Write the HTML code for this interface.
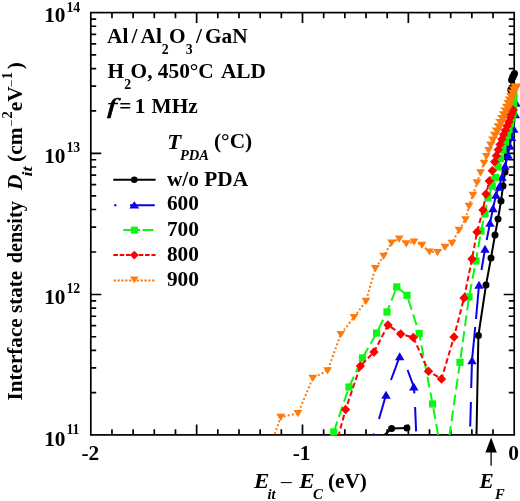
<!DOCTYPE html>
<html><head><meta charset="utf-8"><title>Dit plot</title>
<style>html,body{margin:0;padding:0;background:#fff}svg{display:block}</style></head>
<body>
<svg width="520" height="501" viewBox="0 0 520 501">
<rect width="520" height="501" fill="#fff"/>
<defs><clipPath id="cp"><rect x="90.80" y="12.60" width="423.40" height="422.30"/></clipPath></defs>
<g stroke="#000" stroke-width="1.7" fill="none" stroke-linecap="butt">
<rect x="90.8" y="12.6" width="423.40" height="422.30"/>
<path d="M111.97 434.9 v-5.7 M111.97 12.6 v5.7 M133.14 434.9 v-5.7 M133.14 12.6 v5.7 M154.31 434.9 v-5.7 M154.31 12.6 v5.7 M175.48 434.9 v-5.7 M175.48 12.6 v5.7 M196.65 434.9 v-10.5 M196.65 12.6 v10.5 M217.82 434.9 v-5.7 M217.82 12.6 v5.7 M238.99 434.9 v-5.7 M238.99 12.6 v5.7 M260.16 434.9 v-5.7 M260.16 12.6 v5.7 M281.33 434.9 v-5.7 M281.33 12.6 v5.7 M302.50 434.9 v-10.5 M302.50 12.6 v10.5 M323.67 434.9 v-5.7 M323.67 12.6 v5.7 M344.84 434.9 v-5.7 M344.84 12.6 v5.7 M366.01 434.9 v-5.7 M366.01 12.6 v5.7 M387.18 434.9 v-5.7 M387.18 12.6 v5.7 M408.35 434.9 v-10.5 M408.35 12.6 v10.5 M429.52 434.9 v-5.7 M429.52 12.6 v5.7 M450.69 434.9 v-5.7 M450.69 12.6 v5.7 M471.86 434.9 v-5.7 M471.86 12.6 v5.7 M493.03 434.9 v-5.7 M493.03 12.6 v5.7 M90.8 392.64 h5.4 M514.2 392.64 h-5.4 M90.8 367.91 h5.4 M514.2 367.91 h-5.4 M90.8 350.37 h5.4 M514.2 350.37 h-5.4 M90.8 336.76 h5.4 M514.2 336.76 h-5.4 M90.8 325.65 h5.4 M514.2 325.65 h-5.4 M90.8 316.25 h5.4 M514.2 316.25 h-5.4 M90.8 308.11 h5.4 M514.2 308.11 h-5.4 M90.8 300.92 h5.4 M514.2 300.92 h-5.4 M90.8 294.50 h10.5 M514.2 294.50 h-10.5 M90.8 251.99 h5.4 M514.2 251.99 h-5.4 M90.8 227.13 h5.4 M514.2 227.13 h-5.4 M90.8 209.49 h5.4 M514.2 209.49 h-5.4 M90.8 195.81 h5.4 M514.2 195.81 h-5.4 M90.8 184.63 h5.4 M514.2 184.63 h-5.4 M90.8 175.17 h5.4 M514.2 175.17 h-5.4 M90.8 166.98 h5.4 M514.2 166.98 h-5.4 M90.8 159.76 h5.4 M514.2 159.76 h-5.4 M90.8 153.30 h10.5 M514.2 153.30 h-10.5 M90.8 110.95 h5.4 M514.2 110.95 h-5.4 M90.8 86.17 h5.4 M514.2 86.17 h-5.4 M90.8 68.59 h5.4 M514.2 68.59 h-5.4 M90.8 54.95 h5.4 M514.2 54.95 h-5.4 M90.8 43.81 h5.4 M514.2 43.81 h-5.4 M90.8 34.39 h5.4 M514.2 34.39 h-5.4 M90.8 26.24 h5.4 M514.2 26.24 h-5.4 M90.8 19.04 h5.4 M514.2 19.04 h-5.4"/>
</g>
<g fill="none" stroke-linejoin="round">
<path d="M476.3 445.0 L478.4 335.5 L486.0 285.0 L491.0 258.0 L495.0 235.0 L498.0 219.0 L501.0 201.0 L503.0 186.0 L505.0 172.0 L506.5 157.0 L507.5 142.0 L508.5 128.0 L509.5 114.0 L510.3 100.0 L510.8 90.0 L511.5 80.0 L512.3 78.0 L513.0 76.5 L513.8 75.0 L514.5 73.5" stroke="#000" stroke-width="2" clip-path="url(#cp)"/>
<path d="M379.5 439.5 L391.6 428.6 L406.9 428.1" stroke="#000" stroke-width="2" clip-path="url(#cp)"/>
<circle cx="478.4" cy="335.5" r="3.5" fill="#000"/>
<circle cx="486.0" cy="285.0" r="3.5" fill="#000"/>
<circle cx="491.0" cy="258.0" r="3.5" fill="#000"/>
<circle cx="495.0" cy="235.0" r="3.5" fill="#000"/>
<circle cx="498.0" cy="219.0" r="3.5" fill="#000"/>
<circle cx="501.0" cy="201.0" r="3.5" fill="#000"/>
<circle cx="503.0" cy="186.0" r="3.5" fill="#000"/>
<circle cx="505.0" cy="172.0" r="3.5" fill="#000"/>
<circle cx="506.5" cy="157.0" r="3.5" fill="#000"/>
<circle cx="507.5" cy="142.0" r="3.5" fill="#000"/>
<circle cx="508.5" cy="128.0" r="3.5" fill="#000"/>
<circle cx="509.5" cy="114.0" r="3.5" fill="#000"/>
<circle cx="510.3" cy="100.0" r="3.5" fill="#000"/>
<circle cx="510.8" cy="90.0" r="3.5" fill="#000"/>
<circle cx="511.5" cy="80.0" r="3.5" fill="#000"/>
<circle cx="512.3" cy="78.0" r="3.5" fill="#000"/>
<circle cx="513.0" cy="76.5" r="3.5" fill="#000"/>
<circle cx="513.8" cy="75.0" r="3.5" fill="#000"/>
<circle cx="514.5" cy="73.5" r="3.5" fill="#000"/>
<circle cx="391.6" cy="428.6" r="3.5" fill="#000"/>
<circle cx="406.9" cy="428.1" r="3.5" fill="#000"/>
<path d="M373.4 435.5 L373.9 433.6" stroke="#0c00e4" stroke-width="2" clip-path="url(#cp)"/>
<path d="M379.0 419.0 L386.0 395.0" stroke="#0c00e4" stroke-width="2" clip-path="url(#cp)"/>
<path d="M391.0 380.0 L399.7 356.4" stroke="#0c00e4" stroke-width="2" clip-path="url(#cp)"/>
<path d="M407.6 370.0 L413.8 386.8 L414.4 393.3" stroke="#0c00e4" stroke-width="2" clip-path="url(#cp)"/>
<path d="M415.1 407.0 L416.1 431.4" stroke="#0c00e4" stroke-width="2" clip-path="url(#cp)"/>
<path d="M470.2 426.5 L470.9 402.0" stroke="#0c00e4" stroke-width="2" clip-path="url(#cp)"/>
<path d="M471.2 388.0 L472.0 360.5 L475.2 327.0" stroke="#0c00e4" stroke-width="2" clip-path="url(#cp)"/>
<path d="M476.0 319.0 L479.0 285.0" stroke="#0c00e4" stroke-width="2" clip-path="url(#cp)"/>
<path d="M481.5 270.0 L485.0 249.0" stroke="#0c00e4" stroke-width="2" clip-path="url(#cp)"/>
<path d="M486.7 240.0 L490.0 223.0 L493.0 208.5 L496.0 195.0 L499.0 187.0 L502.0 177.0 L505.0 166.0 L508.0 155.0 L509.8 146.0 L511.5 137.2 L513.8 129.0 L515.3 114.5 L516.0 103.0" stroke="#0c00e4" stroke-width="2" clip-path="url(#cp)"/>
<path d="M381.3 398.8 L390.7 398.8 L386.0 390.8Z" fill="#0c00e4"/>
<path d="M395.0 360.2 L404.4 360.2 L399.7 352.2Z" fill="#0c00e4"/>
<path d="M409.1 390.6 L418.5 390.6 L413.8 382.6Z" fill="#0c00e4"/>
<path d="M467.3 364.3 L476.7 364.3 L472.0 356.3Z" fill="#0c00e4"/>
<path d="M474.3 288.8 L483.7 288.8 L479.0 280.8Z" fill="#0c00e4"/>
<path d="M480.3 252.8 L489.7 252.8 L485.0 244.8Z" fill="#0c00e4"/>
<path d="M485.3 226.8 L494.7 226.8 L490.0 218.8Z" fill="#0c00e4"/>
<path d="M488.3 212.3 L497.7 212.3 L493.0 204.3Z" fill="#0c00e4"/>
<path d="M491.3 198.8 L500.7 198.8 L496.0 190.8Z" fill="#0c00e4"/>
<path d="M494.3 190.8 L503.7 190.8 L499.0 182.8Z" fill="#0c00e4"/>
<path d="M497.3 180.8 L506.7 180.8 L502.0 172.8Z" fill="#0c00e4"/>
<path d="M500.3 169.8 L509.7 169.8 L505.0 161.8Z" fill="#0c00e4"/>
<path d="M503.3 158.8 L512.7 158.8 L508.0 150.8Z" fill="#0c00e4"/>
<path d="M505.1 149.8 L514.5 149.8 L509.8 141.8Z" fill="#0c00e4"/>
<path d="M506.8 141.0 L516.2 141.0 L511.5 133.0Z" fill="#0c00e4"/>
<path d="M509.1 132.8 L518.5 132.8 L513.8 124.8Z" fill="#0c00e4"/>
<path d="M510.6 118.3 L520.0 118.3 L515.3 110.3Z" fill="#0c00e4"/>
<path d="M511.3 106.8 L520.7 106.8 L516.0 98.8Z" fill="#0c00e4"/>
<path d="M333.7 432.0 L349.0 387.0 L362.5 358.0 L376.6 333.0 L387.0 312.0 L396.8 286.9 L407.0 295.3 L419.2 333.5 L432.6 404.0 L444.5 470.0 L460.0 362.3 L469.0 297.0 L476.0 261.0 L481.0 231.0 L485.0 214.0 L488.0 198.0 L492.3 186.3 L495.4 177.5 L498.0 167.0 L500.5 158.5 L503.0 150.0 L505.4 142.0 L507.3 135.5 L509.0 129.5 L510.7 123.8 L512.3 118.3 L513.3 113.0 L513.6 108.0 L513.7 103.0 L513.8 98.0 L513.8 94.0" stroke="#0cf612" stroke-width="2" stroke-dasharray="11 5" clip-path="url(#cp)"/>
<rect x="330.1" y="428.4" width="7.2" height="7.2" fill="#0cf612"/>
<rect x="345.4" y="383.4" width="7.2" height="7.2" fill="#0cf612"/>
<rect x="358.9" y="354.4" width="7.2" height="7.2" fill="#0cf612"/>
<rect x="373.0" y="329.4" width="7.2" height="7.2" fill="#0cf612"/>
<rect x="383.4" y="308.4" width="7.2" height="7.2" fill="#0cf612"/>
<rect x="393.2" y="283.3" width="7.2" height="7.2" fill="#0cf612"/>
<rect x="403.4" y="291.7" width="7.2" height="7.2" fill="#0cf612"/>
<rect x="415.6" y="329.9" width="7.2" height="7.2" fill="#0cf612"/>
<rect x="429.0" y="400.4" width="7.2" height="7.2" fill="#0cf612"/>
<rect x="456.4" y="358.7" width="7.2" height="7.2" fill="#0cf612"/>
<rect x="465.4" y="293.4" width="7.2" height="7.2" fill="#0cf612"/>
<rect x="472.4" y="257.4" width="7.2" height="7.2" fill="#0cf612"/>
<rect x="477.4" y="227.4" width="7.2" height="7.2" fill="#0cf612"/>
<rect x="481.4" y="210.4" width="7.2" height="7.2" fill="#0cf612"/>
<rect x="484.4" y="194.4" width="7.2" height="7.2" fill="#0cf612"/>
<rect x="488.7" y="182.7" width="7.2" height="7.2" fill="#0cf612"/>
<rect x="491.8" y="173.9" width="7.2" height="7.2" fill="#0cf612"/>
<rect x="494.4" y="163.4" width="7.2" height="7.2" fill="#0cf612"/>
<rect x="496.9" y="154.9" width="7.2" height="7.2" fill="#0cf612"/>
<rect x="499.4" y="146.4" width="7.2" height="7.2" fill="#0cf612"/>
<rect x="501.8" y="138.4" width="7.2" height="7.2" fill="#0cf612"/>
<rect x="503.7" y="131.9" width="7.2" height="7.2" fill="#0cf612"/>
<rect x="505.4" y="125.9" width="7.2" height="7.2" fill="#0cf612"/>
<rect x="507.1" y="120.2" width="7.2" height="7.2" fill="#0cf612"/>
<rect x="508.7" y="114.7" width="7.2" height="7.2" fill="#0cf612"/>
<rect x="509.7" y="109.4" width="7.2" height="7.2" fill="#0cf612"/>
<rect x="510.0" y="104.4" width="7.2" height="7.2" fill="#0cf612"/>
<rect x="510.1" y="99.4" width="7.2" height="7.2" fill="#0cf612"/>
<rect x="510.2" y="94.4" width="7.2" height="7.2" fill="#0cf612"/>
<rect x="510.2" y="90.4" width="7.2" height="7.2" fill="#0cf612"/>
<path d="M336.0 445.0 L345.6 409.5 L360.4 366.0 L374.0 352.0 L388.0 325.0 L400.7 334.0 L413.3 337.5 L428.5 371.2 L441.5 379.0 L454.0 337.0 L464.0 298.0 L472.0 259.0 L477.0 232.0 L483.0 210.0 L486.0 194.0 L489.3 181.0 L492.3 170.8 L494.7 161.8 L496.4 155.7 L498.3 149.8 L500.1 144.4 L501.9 139.2 L503.6 134.6 L505.4 130.2 L507.2 125.9 L508.9 121.7 L510.5 117.6 L512.0 113.6 L513.2 110.0" stroke="#ff0000" stroke-width="2" stroke-dasharray="5.5 3" clip-path="url(#cp)"/>
<path d="M340.9 409.5 L345.6 404.8 L350.3 409.5 L345.6 414.2Z" fill="#ff0000"/>
<path d="M355.7 366.0 L360.4 361.3 L365.1 366.0 L360.4 370.7Z" fill="#ff0000"/>
<path d="M369.3 352.0 L374.0 347.3 L378.7 352.0 L374.0 356.7Z" fill="#ff0000"/>
<path d="M383.3 325.0 L388.0 320.3 L392.7 325.0 L388.0 329.7Z" fill="#ff0000"/>
<path d="M396.0 334.0 L400.7 329.3 L405.4 334.0 L400.7 338.7Z" fill="#ff0000"/>
<path d="M408.6 337.5 L413.3 332.8 L418.0 337.5 L413.3 342.2Z" fill="#ff0000"/>
<path d="M423.8 371.2 L428.5 366.5 L433.2 371.2 L428.5 375.9Z" fill="#ff0000"/>
<path d="M436.8 379.0 L441.5 374.3 L446.2 379.0 L441.5 383.7Z" fill="#ff0000"/>
<path d="M449.3 337.0 L454.0 332.3 L458.7 337.0 L454.0 341.7Z" fill="#ff0000"/>
<path d="M459.3 298.0 L464.0 293.3 L468.7 298.0 L464.0 302.7Z" fill="#ff0000"/>
<path d="M467.3 259.0 L472.0 254.3 L476.7 259.0 L472.0 263.7Z" fill="#ff0000"/>
<path d="M472.3 232.0 L477.0 227.3 L481.7 232.0 L477.0 236.7Z" fill="#ff0000"/>
<path d="M478.3 210.0 L483.0 205.3 L487.7 210.0 L483.0 214.7Z" fill="#ff0000"/>
<path d="M481.3 194.0 L486.0 189.3 L490.7 194.0 L486.0 198.7Z" fill="#ff0000"/>
<path d="M484.6 181.0 L489.3 176.3 L494.0 181.0 L489.3 185.7Z" fill="#ff0000"/>
<path d="M487.6 170.8 L492.3 166.1 L497.0 170.8 L492.3 175.5Z" fill="#ff0000"/>
<path d="M490.0 161.8 L494.7 157.1 L499.4 161.8 L494.7 166.5Z" fill="#ff0000"/>
<path d="M491.7 155.7 L496.4 151.0 L501.1 155.7 L496.4 160.4Z" fill="#ff0000"/>
<path d="M493.6 149.8 L498.3 145.1 L503.0 149.8 L498.3 154.5Z" fill="#ff0000"/>
<path d="M495.4 144.4 L500.1 139.7 L504.8 144.4 L500.1 149.1Z" fill="#ff0000"/>
<path d="M497.2 139.2 L501.9 134.5 L506.6 139.2 L501.9 143.9Z" fill="#ff0000"/>
<path d="M498.9 134.6 L503.6 129.9 L508.3 134.6 L503.6 139.3Z" fill="#ff0000"/>
<path d="M500.7 130.2 L505.4 125.5 L510.1 130.2 L505.4 134.9Z" fill="#ff0000"/>
<path d="M502.5 125.9 L507.2 121.2 L511.9 125.9 L507.2 130.6Z" fill="#ff0000"/>
<path d="M504.2 121.7 L508.9 117.0 L513.6 121.7 L508.9 126.4Z" fill="#ff0000"/>
<path d="M505.8 117.6 L510.5 112.9 L515.2 117.6 L510.5 122.3Z" fill="#ff0000"/>
<path d="M507.3 113.6 L512.0 108.9 L516.7 113.6 L512.0 118.3Z" fill="#ff0000"/>
<path d="M508.5 110.0 L513.2 105.3 L517.9 110.0 L513.2 114.7Z" fill="#ff0000"/>
<path d="M272.0 442.0 L280.7 417.0 L298.0 413.4 L312.8 378.0 L327.6 370.5 L340.8 334.2 L354.0 317.2 L366.0 301.0 L375.3 268.4 L383.6 256.0 L391.6 242.7 L399.2 238.8 L406.3 243.6 L414.0 241.7 L422.0 245.1 L429.5 251.7 L437.5 252.3 L445.0 247.0 L452.0 243.0 L459.0 230.0 L465.5 219.5 L469.0 206.0 L473.0 195.0 L477.0 182.5 L480.6 172.5 L484.0 163.0 L486.4 156.2 L488.6 150.2 L490.6 144.8 L492.6 139.8 L494.5 135.1 L496.3 130.7 L498.1 126.5 L499.9 122.4 L501.7 118.4 L503.4 114.5 L505.0 110.7 L506.5 107.0 L508.0 103.4 L509.4 99.8 L510.8 96.3 L512.1 92.8 L513.4 89.6 L514.6 86.8" stroke="#ff7a0c" stroke-width="2" stroke-dasharray="2 2.2" clip-path="url(#cp)"/>
<path d="M276.3 413.7 L285.1 413.7 L280.7 420.9Z" fill="#ff7a0c"/>
<path d="M293.6 410.1 L302.4 410.1 L298.0 417.3Z" fill="#ff7a0c"/>
<path d="M308.4 374.7 L317.2 374.7 L312.8 381.9Z" fill="#ff7a0c"/>
<path d="M323.2 367.2 L332.0 367.2 L327.6 374.4Z" fill="#ff7a0c"/>
<path d="M336.4 330.9 L345.2 330.9 L340.8 338.1Z" fill="#ff7a0c"/>
<path d="M349.6 313.9 L358.4 313.9 L354.0 321.1Z" fill="#ff7a0c"/>
<path d="M361.6 297.7 L370.4 297.7 L366.0 304.9Z" fill="#ff7a0c"/>
<path d="M370.9 265.1 L379.7 265.1 L375.3 272.3Z" fill="#ff7a0c"/>
<path d="M379.2 252.7 L388.0 252.7 L383.6 259.9Z" fill="#ff7a0c"/>
<path d="M387.2 239.4 L396.0 239.4 L391.6 246.6Z" fill="#ff7a0c"/>
<path d="M394.8 235.5 L403.6 235.5 L399.2 242.7Z" fill="#ff7a0c"/>
<path d="M401.9 240.3 L410.7 240.3 L406.3 247.5Z" fill="#ff7a0c"/>
<path d="M409.6 238.4 L418.4 238.4 L414.0 245.6Z" fill="#ff7a0c"/>
<path d="M417.6 241.8 L426.4 241.8 L422.0 249.0Z" fill="#ff7a0c"/>
<path d="M425.1 248.4 L433.9 248.4 L429.5 255.6Z" fill="#ff7a0c"/>
<path d="M433.1 249.0 L441.9 249.0 L437.5 256.2Z" fill="#ff7a0c"/>
<path d="M440.6 243.7 L449.4 243.7 L445.0 250.9Z" fill="#ff7a0c"/>
<path d="M447.6 239.7 L456.4 239.7 L452.0 246.9Z" fill="#ff7a0c"/>
<path d="M454.6 226.7 L463.4 226.7 L459.0 233.9Z" fill="#ff7a0c"/>
<path d="M461.1 216.2 L469.9 216.2 L465.5 223.4Z" fill="#ff7a0c"/>
<path d="M464.6 202.7 L473.4 202.7 L469.0 209.9Z" fill="#ff7a0c"/>
<path d="M468.6 191.7 L477.4 191.7 L473.0 198.9Z" fill="#ff7a0c"/>
<path d="M472.6 179.2 L481.4 179.2 L477.0 186.4Z" fill="#ff7a0c"/>
<path d="M476.2 169.2 L485.0 169.2 L480.6 176.4Z" fill="#ff7a0c"/>
<path d="M479.6 159.7 L488.4 159.7 L484.0 166.9Z" fill="#ff7a0c"/>
<path d="M482.0 152.9 L490.8 152.9 L486.4 160.1Z" fill="#ff7a0c"/>
<path d="M484.2 146.9 L493.0 146.9 L488.6 154.1Z" fill="#ff7a0c"/>
<path d="M486.1 141.5 L495.5 141.5 L490.8 148.7Z" fill="#ff7a0c"/>
<path d="M488.1 136.5 L497.9 136.5 L493.0 143.7Z" fill="#ff7a0c"/>
<path d="M489.9 131.8 L500.3 131.8 L495.1 139.0Z" fill="#ff7a0c"/>
<path d="M491.7 127.4 L502.5 127.4 L497.1 134.6Z" fill="#ff7a0c"/>
<path d="M493.4 123.2 L504.7 123.2 L499.0 130.4Z" fill="#ff7a0c"/>
<path d="M495.2 119.1 L506.6 119.1 L500.9 126.3Z" fill="#ff7a0c"/>
<path d="M497.0 115.1 L508.4 115.1 L502.7 122.3Z" fill="#ff7a0c"/>
<path d="M498.7 111.2 L510.1 111.2 L504.4 118.4Z" fill="#ff7a0c"/>
<path d="M500.3 107.4 L511.7 107.4 L506.0 114.6Z" fill="#ff7a0c"/>
<path d="M501.8 103.7 L513.2 103.7 L507.5 110.9Z" fill="#ff7a0c"/>
<path d="M503.3 100.1 L514.7 100.1 L509.0 107.3Z" fill="#ff7a0c"/>
<path d="M504.7 96.5 L516.1 96.5 L510.4 103.7Z" fill="#ff7a0c"/>
<path d="M506.1 93.0 L517.5 93.0 L511.8 100.2Z" fill="#ff7a0c"/>
<path d="M507.4 89.5 L518.8 89.5 L513.1 96.7Z" fill="#ff7a0c"/>
<path d="M508.7 86.3 L520.1 86.3 L514.4 93.5Z" fill="#ff7a0c"/>
<path d="M509.9 83.5 L521.3 83.5 L515.6 90.7Z" fill="#ff7a0c"/>
</g>
<g font-family="'Liberation Serif', 'Times New Roman', serif" font-weight="bold" font-size="21.33" fill="#000">
<text x="44.2" y="445.6">10</text><text x="66.4" y="434.1" font-size="13.8">11</text>
<text x="44.2" y="303.9">10</text><text x="66.4" y="292.9" font-size="13.8">12</text>
<text x="44.2" y="163.4">10</text><text x="66.4" y="151.8" font-size="13.8">13</text>
<text x="44.2" y="22.3">10</text><text x="66.4" y="11.9" font-size="13.8">14</text>
<text x="90.3" y="459.5" text-anchor="middle">-2</text>
<text x="301.6" y="459.6" text-anchor="middle">-1</text>
<text x="508.3" y="459.8">0</text>
<text x="253.9" y="488.1" font-style="italic" textLength="15.3" lengthAdjust="spacingAndGlyphs">E</text><text x="267.6" y="499" font-style="italic" font-size="14.5">it</text>
<text x="281" y="488" font-weight="normal">–</text>
<text x="299.3" y="488.1" font-style="italic" textLength="15.3" lengthAdjust="spacingAndGlyphs">E</text><text x="313" y="499" font-style="italic" font-size="14.8">C</text>
<text x="327.9" y="488">(eV)</text>
<text x="479.5" y="488" font-style="italic">E</text><text x="495" y="498.6" font-style="italic" font-size="14.5">F</text>
<path d="M491.1 437.5 L496.8 452.6 L485.4 452.6Z"/><path d="M491.1 452 V465.8" stroke="#1a1a1a" stroke-width="1.45"/>
<g transform="translate(22.2 400.5) rotate(-90)">
<text x="0" y="0" textLength="129.7" lengthAdjust="spacingAndGlyphs">Interface state</text><text x="137.2" y="0" textLength="62.2" lengthAdjust="spacingAndGlyphs">density</text>
<text x="210.5" y="0" font-style="italic">D</text><text x="224" y="10" font-style="italic" font-size="14" textLength="10" lengthAdjust="spacingAndGlyphs">it</text>
<text x="238.6" y="0">(cm</text><text x="274.6" y="-8.2" font-size="12.5" font-weight="normal">–</text><text x="282.1" y="-10" font-size="14.5">2</text><text x="289.2" y="0">eV</text><text x="314" y="-8.2" font-size="12.5" font-weight="normal">–</text><text x="321.3" y="-10" font-size="14.5">1</text><text x="331.2" y="0">)</text>
</g>
<text x="107.0" y="42.6">Al</text><text x="131.4" y="42.6">/</text><text x="140.6" y="42.6">Al</text><text x="161.7" y="53.7" font-size="13.8">2</text><text x="169.0" y="42.6">O</text><text x="185.7" y="53.7" font-size="13.8">3</text><text x="195.9" y="42.6">/</text><text x="204.9" y="42.6">GaN</text>
<text x="107.5" y="78.4">H</text><text x="124.3" y="89.2" font-size="13.8">2</text><text x="130.6" y="78.4">O, 450°C</text><text x="220.9" y="78.4">ALD</text>
<text x="106.9" y="113.2" font-style="italic" font-weight="normal" stroke="#000" stroke-width="0.55" textLength="9.6" lengthAdjust="spacingAndGlyphs">f</text><text x="119.2" y="113.2">=</text><text x="134.8" y="113.2">1</text><text x="151.5" y="113.2">MHz</text>
<text x="167.3" y="148.5" font-style="italic" textLength="14" lengthAdjust="spacingAndGlyphs">T</text><text x="180" y="159.6" font-style="italic" font-size="14.5">PDA</text><text x="214" y="148">(°C)</text>
<text x="166.9" y="185.9">w/o PDA</text>
<text x="166.9" y="210.2">600</text>
<text x="166.9" y="235.6">700</text>
<text x="166.9" y="260.8">800</text>
<text x="166.9" y="285.5">900</text>
</g>
<path d="M113.3 179.7 H155.6" stroke="#000" stroke-width="2"/><circle cx="134.3" cy="179.7" r="3.3" fill="#000"/>
<path d="M114.2 205.3 H116.4 M130 205.3 H154.8" stroke="#0c00e4" stroke-width="2"/><path d="M129.3 208.4 L139.3 208.4 L134.3 201.2Z" fill="#0c00e4"/>
<path d="M123.3 230.1 H140 M142.6 230.1 H153.4" stroke="#0cf612" stroke-width="2"/><rect x="130.9" y="226.6" width="7" height="7" fill="#0cf612"/>
<path d="M113.3 255.1 H155.6" stroke="#ff0000" stroke-width="2" stroke-dasharray="4.6 1.75"/><path d="M129.9 255.1 L134.3 250.7 L138.70000000000002 255.1 L134.3 259.5Z" fill="#ff0000"/>
<path d="M113.6 280.4 H155.6" stroke="#ff7a0c" stroke-width="2" stroke-dasharray="2.3 1.55"/><path d="M130.0 276.5 L138.60000000000002 276.5 L134.3 283.3Z" fill="#ff7a0c"/>
</svg>
</body></html>
